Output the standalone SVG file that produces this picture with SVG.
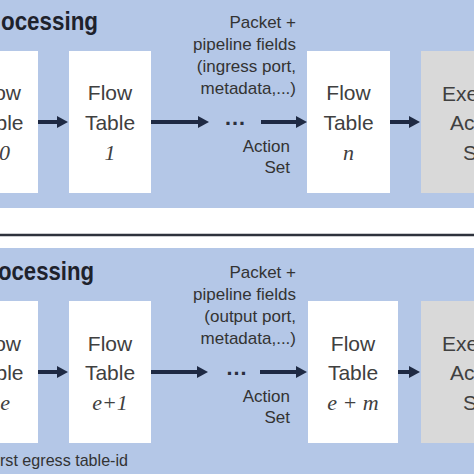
<svg xmlns="http://www.w3.org/2000/svg" width="474" height="474" viewBox="0 0 474 474">
<defs>
<style>
.bg{fill:#b4c7e7}
.box{fill:#ffffff}
.exec{fill:#d9d9d9}
.lbl{font-family:"Liberation Sans",Arial,sans-serif;font-size:21px;fill:#404040;text-anchor:middle}
.lend{font-family:"Liberation Sans",Arial,sans-serif;font-size:21px;fill:#404040;text-anchor:end}
.lstart{font-family:"Liberation Sans",Arial,sans-serif;font-size:21px;fill:#404040}
.num{font-family:"Liberation Serif","Times New Roman",serif;font-style:italic;font-size:22px;fill:#404040;text-anchor:middle}
.title{font-family:"Liberation Sans",Arial,sans-serif;font-weight:bold;font-size:25px;fill:#1e222c}
.note{font-family:"Liberation Sans",Arial,sans-serif;font-size:17px;fill:#333333;text-anchor:end}
.foot{font-family:"Liberation Sans",Arial,sans-serif;font-size:17px;fill:#333333}
.dots{font-family:"Liberation Sans",Arial,sans-serif;font-size:22px;font-weight:bold;fill:#2a2f3d;text-anchor:middle}
.arr{stroke:#1f2a44;stroke-width:4;fill:none;marker-end:url(#ah)}
</style>
<marker id="ah" markerUnits="userSpaceOnUse" markerWidth="12" markerHeight="12" refX="0" refY="6" orient="auto" viewBox="0 0 12 12"><path d="M0,0 L11,6 L0,12 z" fill="#1f2a44"/></marker>
</defs>

<g id="panels">
<rect x="0" y="0" width="474" height="208" class="bg"/>
<rect x="0" y="208" width="474" height="40" fill="#ffffff"/>
<line x1="0" y1="235" x2="474" y2="235" stroke="#2e323c" stroke-width="2.5"/>
<rect x="0" y="248" width="474" height="226" class="bg"/>
</g>

<g id="ingress-title">
<text x="1" y="30" class="title" textLength="97" lengthAdjust="spacingAndGlyphs">ocessing</text>
</g>

<g id="table-0">
<rect x="0" y="51" width="38" height="142" class="box"/>
<text x="21" y="100" class="lend">ow</text>
<text x="23.5" y="130" class="lend">ble</text>
<text x="10" y="160" class="num" style="text-anchor:end">0</text>
</g>

<g id="table-1">
<rect x="69" y="51" width="82" height="142" class="box"/>
<text x="110" y="100" class="lbl">Flow</text>
<text x="110" y="130" class="lbl">Table</text>
<text x="110" y="160" class="num">1</text>
</g>

<g id="ingress-fields">
<text x="296" y="28" class="note">Packet +</text>
<text x="296" y="50" class="note">pipeline fields</text>
<text x="296" y="72" class="note">(ingress port,</text>
<text x="296" y="94" class="note">metadata,...)</text>
<text x="235" y="124.5" class="dots">…</text>
<text x="290" y="152" class="note">Action</text>
<text x="290" y="173" class="note">Set</text>
</g>

<g id="table-n">
<rect x="307" y="51" width="83" height="142" class="box"/>
<text x="348.5" y="100" class="lbl">Flow</text>
<text x="348.5" y="130" class="lbl">Table</text>
<text x="348.5" y="160" class="num">n</text>
</g>

<g id="execute-1">
<rect x="421" y="51" width="53" height="142" class="exec"/>
<text x="442" y="101" class="lstart">Exe</text>
<text x="450" y="130" class="lstart">Ac</text>
<text x="463" y="160" class="lstart">S</text>
</g>

<g id="egress-title">
<text x="-2" y="280" class="title" textLength="96" lengthAdjust="spacingAndGlyphs">ocessing</text>
</g>

<g id="table-e">
<rect x="0" y="301" width="38" height="142" class="box"/>
<text x="21" y="351" class="lend">ow</text>
<text x="23.5" y="380" class="lend">ble</text>
<text x="10" y="410" class="num" style="text-anchor:end">e</text>
</g>

<g id="table-e1">
<rect x="69" y="301" width="82" height="142" class="box"/>
<text x="110" y="351" class="lbl">Flow</text>
<text x="110" y="380" class="lbl">Table</text>
<text x="110" y="410" class="num">e+1</text>
</g>

<g id="egress-fields">
<text x="296" y="278" class="note">Packet +</text>
<text x="296" y="300" class="note">pipeline fields</text>
<text x="296" y="322" class="note">(output port,</text>
<text x="296" y="344" class="note">metadata,...)</text>
<text x="236.5" y="374.5" class="dots">…</text>
<text x="290" y="402" class="note">Action</text>
<text x="290" y="423" class="note">Set</text>
<text x="0" y="466" class="foot" textLength="128" lengthAdjust="spacingAndGlyphs">rst egress table-id</text>
</g>

<g id="table-em">
<rect x="308" y="301" width="90" height="142" class="box"/>
<text x="353" y="351" class="lbl">Flow</text>
<text x="353" y="380" class="lbl">Table</text>
<text x="353" y="410" class="num">e + m</text>
</g>

<g id="execute-2">
<rect x="421" y="301" width="53" height="142" class="exec"/>
<text x="442" y="351" class="lstart">Exe</text>
<text x="450" y="380" class="lstart">Ac</text>
<text x="463" y="410" class="lstart">S</text>
</g>

<g id="connectors">
<path d="M38,122 H57" class="arr"/>
<path d="M151,122 H198" class="arr"/>
<path d="M261,122 H296" class="arr"/>
<path d="M390,122 H409" class="arr"/>
<path d="M38,372 H57" class="arr"/>
<path d="M151,372 H197" class="arr"/>
<path d="M260,372 H296" class="arr"/>
<path d="M398,372 H409" class="arr"/>
</g>
</svg>
